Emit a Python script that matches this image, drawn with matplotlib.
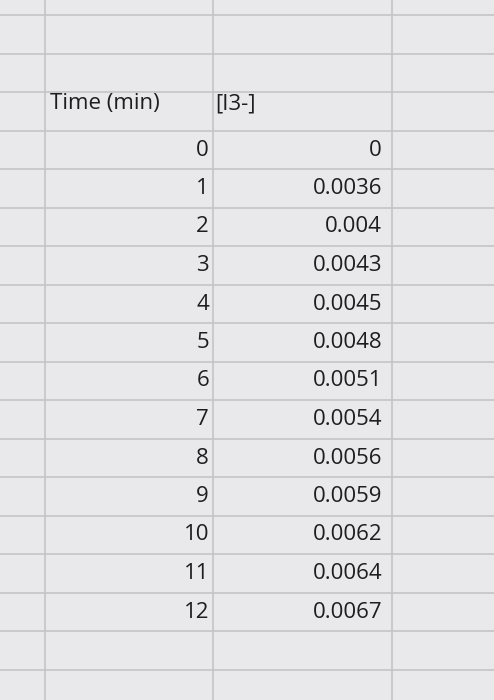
import matplotlib.pyplot as plt

times = ["0", "1", "2", "3", "4", "5", "6", "7", "8", "9", "10", "11", "12"]
conc = ["0", "0.0036", "0.004", "0.0043", "0.0045", "0.0048", "0.0051",
        "0.0054", "0.0056", "0.0059", "0.0062", "0.0064", "0.0067"]

W, H = 494, 700
fig = plt.figure(figsize=(W / 100, H / 100), dpi=100)
fig.patch.set_facecolor('#e9e9eb')
ax = fig.add_axes([0, 0, 1, 1])
ax.set_xlim(0, W)
ax.set_ylim(H, 0)
ax.axis('off')

row0 = 150
step = 38.5
# grid lines
y = row0 - step / 2 - 3 * step
while y < H:
    ax.axhline(y, color='#c4c4c8', lw=1.2)
    y += step
for x in [45, 213, 392]:
    ax.axvline(x, color='#c4c4c8', lw=1.2)

font = dict(family=['Open Sans', 'DejaVu Sans'], fontsize=16, color='#1e1e22')
ax.text(50, row0 - step * 1.2, "Time (min)", ha='left', va='center', **font)
ax.text(215, row0 - step * 1.2, "[I3-]", ha='left', va='center', **font)
for i, (t, c) in enumerate(zip(times, conc)):
    yy = row0 + i * step
    ax.text(209, yy, t, ha='right', va='center', **font)
    ax.text(382, yy, c, ha='right', va='center', **font)

fig.savefig('out.png', dpi=100, facecolor=fig.get_facecolor())
